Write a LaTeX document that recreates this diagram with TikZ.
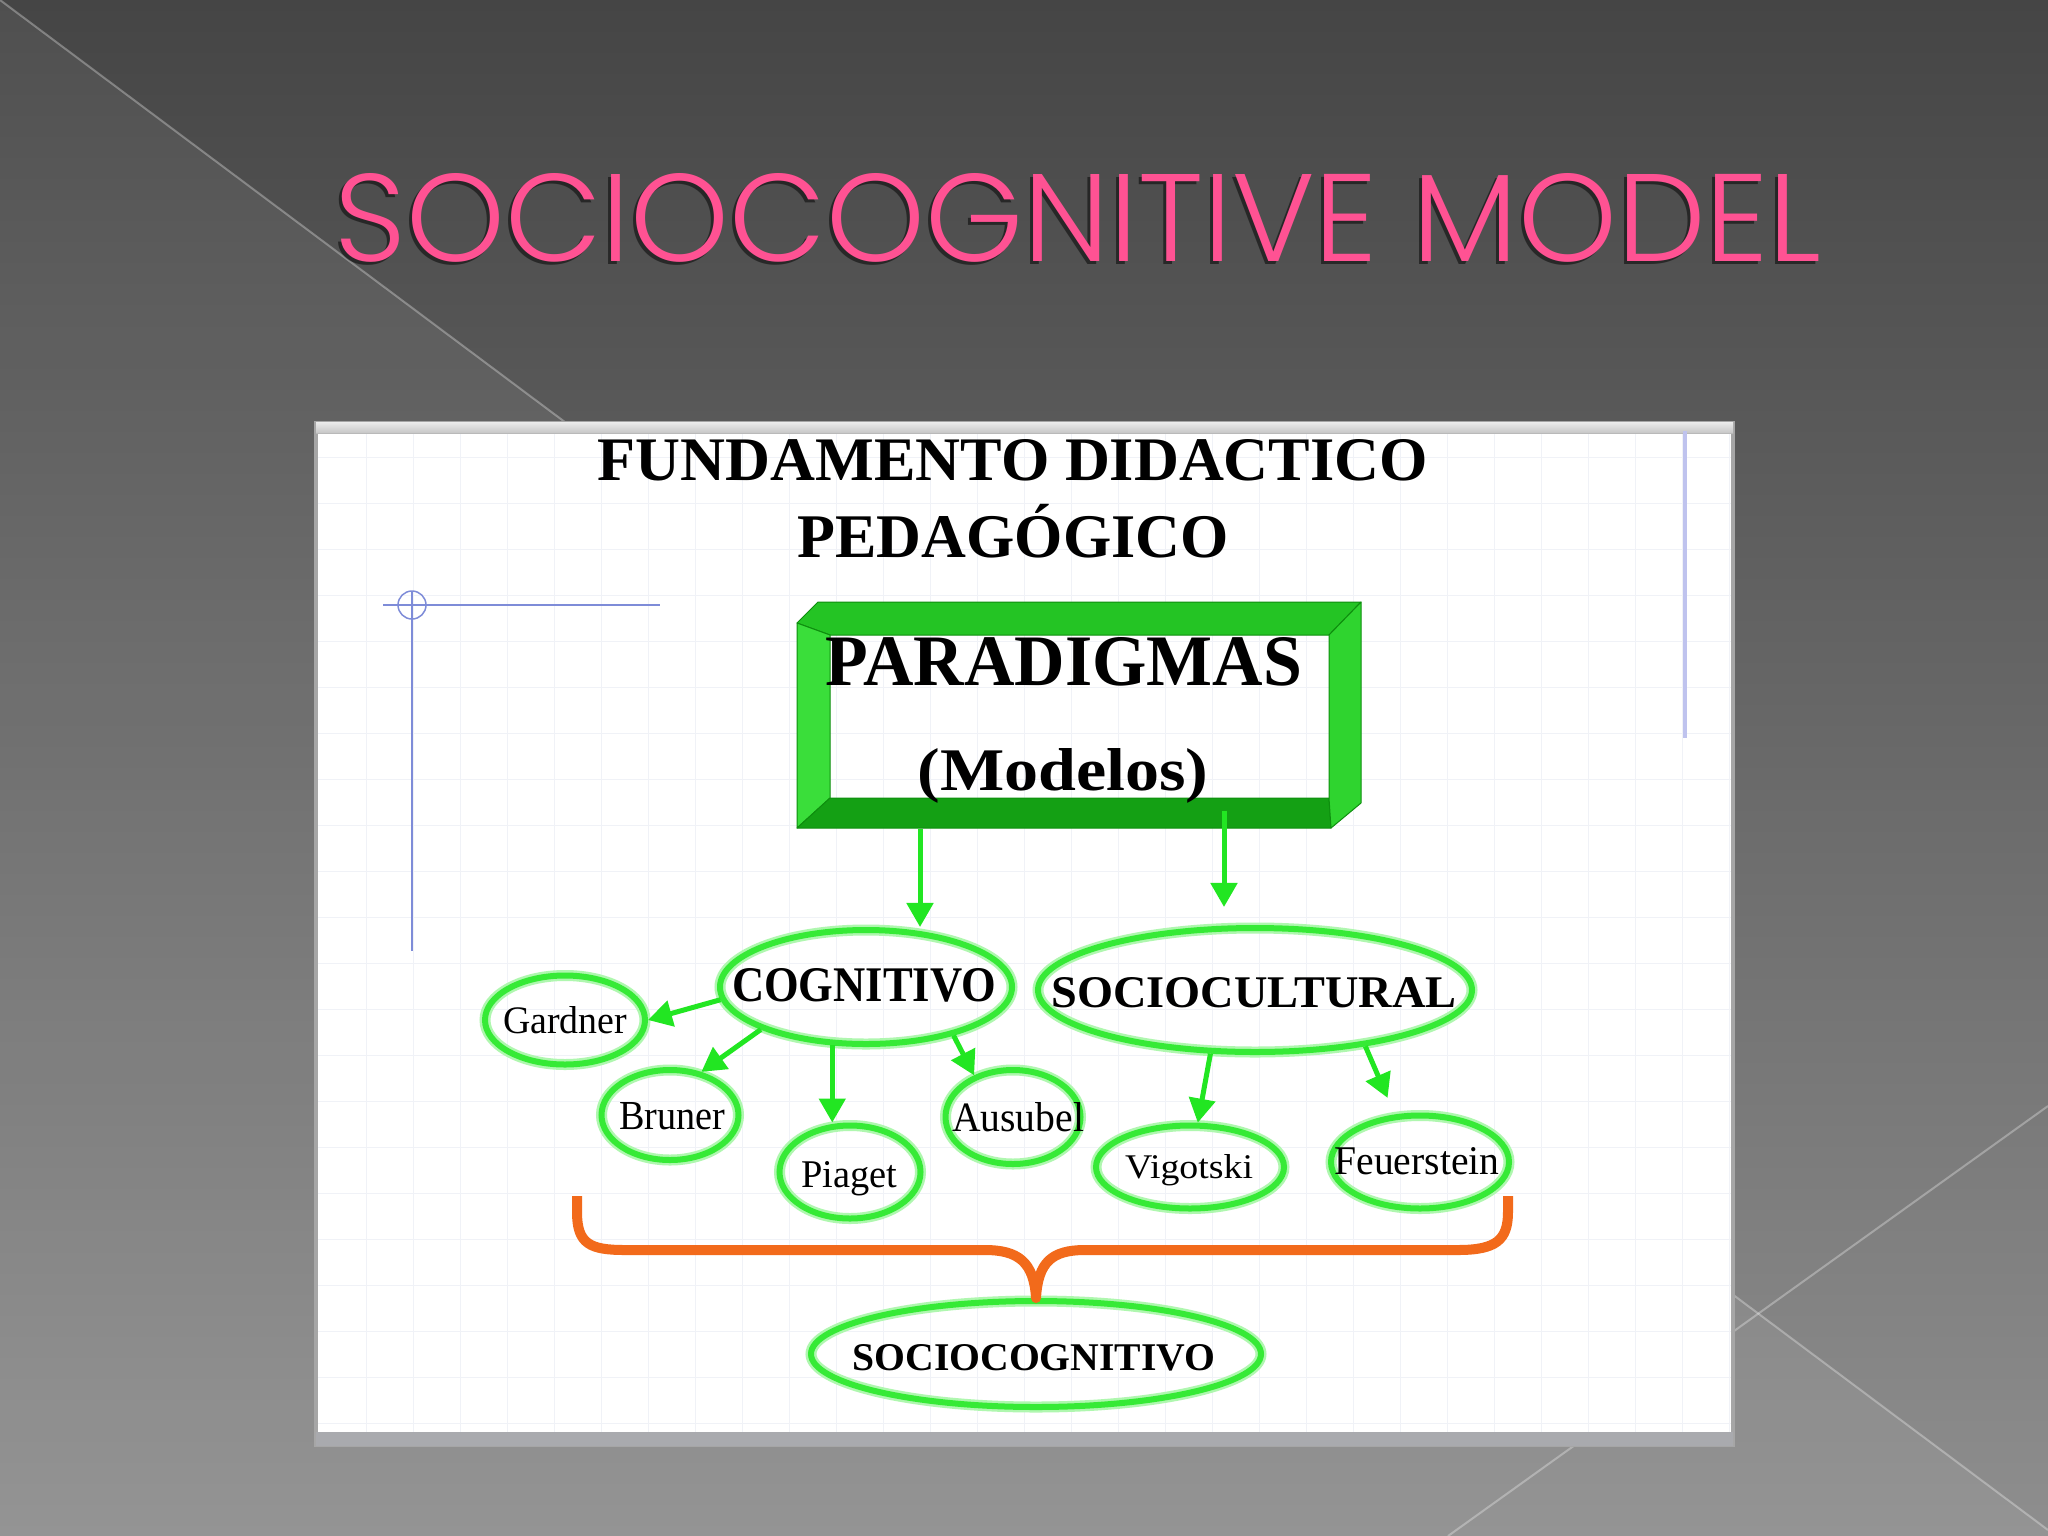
\documentclass[tikz,border=0pt]{standalone}
\usepackage{fontspec}
\setmainfont{Liberation Serif}
\IfFontExistsTF{Poppins Light}{\newfontfamily\titlefont{Poppins Light}}{\newfontfamily\titlefont{Poppins}}
\usepackage{graphicx}
\usetikzlibrary{arrows.meta,shapes.geometric,calc}
\newlength\pxu
\setlength\pxu{0.01cm}
\newcommand\fitt[3]{\resizebox{#1\pxu}{#2\pxu}{#3}}
\definecolor{bgtop}{HTML}{454545}
\definecolor{bgbot}{HTML}{8E8E8E}
\definecolor{titlepink}{HTML}{FF5293}
\definecolor{gline}{HTML}{36EA36}
\definecolor{garrow}{HTML}{22E622}
\definecolor{orangebr}{HTML}{F26A1B}
\definecolor{guide}{HTML}{7E8CD8}
\definecolor{guidetwo}{HTML}{BFC3EE}
\definecolor{gridc}{HTML}{F0F2F7}
\definecolor{ftop}{HTML}{24C424}
\definecolor{fleft}{HTML}{3ADE3A}
\definecolor{fbot}{HTML}{14A014}
\definecolor{fright}{HTML}{2FD42F}
\definecolor{fedge}{HTML}{0E8E0E}
\definecolor{panelbot}{HTML}{A9AAAE}
\tikzset{
  oval/.style={ellipse, draw=gline, line width=0.06cm, inner sep=0pt,
    preaction={draw=gline!40!white, line width=0.11cm}},
  lbl/.style={inner sep=0pt, text depth=0pt, anchor=center},
  arr/.style={draw=garrow, line width=0.05cm, -{Triangle[width=0.26cm,length=0.24cm]}},
  bgline/.style={draw=white, opacity=0.3, line width=0.02cm},
  face/.style={draw=fedge, line width=0.01cm, line join=round}
}
\begin{document}
\begin{tikzpicture}[x=0.01cm,y=-0.01cm]
\useasboundingbox (0,0) rectangle (2048,1536);
% background
\shade[top color=bgtop, bottom color=bgbot] (0,0) rectangle (2048,1536);
\fill[white, opacity=0.06] (0,0) -- (2048,1530) -- (2048,1536) -- (0,1536) -- cycle;
\draw[bgline] (0,0) -- (2048,1530);
\draw[bgline] (2048,1106) -- (1448,1536);
% title
\node[anchor=base, inner sep=0pt, text=black, opacity=0.5] (titlesh) at (1075,264)
  {\fitt{1487}{88}{\titlefont SOCIOCOGNITIVE MODEL}};
\node[anchor=base, inner sep=0pt, text=titlepink] (title) at (1078,261)
  {\fitt{1487}{88}{\titlefont SOCIOCOGNITIVE MODEL}};
% panel
\fill[gray!70] (314,421) rectangle (1735,1447);
\fill[white] (318,434) rectangle (1731,1432);
\shade[top color=gray!15, bottom color=gray!45] (316,422) rectangle (1733,433);
\draw[gray!55, line width=0.01cm] (316,433) -- (1733,433);
\fill[panelbot] (316,1432) rectangle (1733,1446);
% grid
\foreach \y in {457,503,...,1430} \draw[gridc, line width=0.01cm] (318,\y) -- (1731,\y);
\foreach \x in {366,413,...,1730} \draw[gridc, line width=0.01cm] (\x,434) -- (\x,1432);
% guides
\draw[guide, line width=0.02cm] (383,605) -- (660,605);
\draw[guide, line width=0.02cm] (412,591) -- (412,951);
\draw[guide, line width=0.015cm] (412,605) circle[radius=14];
\draw[guidetwo, line width=0.04cm] (1685,431) -- (1685,738);
% headings
\node[inner sep=0pt, anchor=base] (fund) at (1013,480)
  {\fitt{830}{41}{\bfseries FUNDAMENTO DIDACTICO}};
\node[inner sep=0pt, anchor=base] (peda) at (1013,557)
  {\resizebox{431\pxu}{!}{\bfseries PEDAGÓGICO}};
% 3D frame
\fill[ftop, face] (797,623) -- (818,602) -- (1361,602) -- (1329,635) -- (830,635) -- cycle;
\fill[fleft, face] (797,623) -- (830,635) -- (830,798) -- (797,828) -- cycle;
\fill[fbot, face] (797,828) -- (830,798) -- (1329,798) -- (1331,828) -- cycle;
\fill[fright, face] (1361,602) -- (1361,803) -- (1331,828) -- (1329,798) -- (1329,635) -- cycle;
\node[draw=none, inner sep=0pt, minimum width=564\pxu, minimum height=226\pxu] (par) at (1079,715) {};
\node[inner sep=0pt, anchor=base] (parat) at (1064,685) {\fitt{476}{48}{\bfseries PARADIGMAS}};
\node[inner sep=0pt, anchor=base] (modt) at (1063,790) {\fitt{291}{42}{\bfseries (Modelos)}};
% ovals
\node[oval, minimum width=292\pxu, minimum height=114\pxu] (cog) at (866,987) {};
\node[oval, minimum width=434\pxu, minimum height=124\pxu] (soc) at (1255,990) {};
\node[oval, minimum width=160\pxu, minimum height=89\pxu] (gar) at (565,1020) {};
\node[oval, minimum width=137\pxu, minimum height=90\pxu] (bru) at (670,1115) {};
\node[oval, minimum width=141\pxu, minimum height=93\pxu] (pia) at (850,1172) {};
\node[oval, minimum width=135\pxu, minimum height=94\pxu] (aus) at (1013,1117) {};
\node[oval, minimum width=188\pxu, minimum height=83\pxu] (vig) at (1190,1167) {};
\node[oval, minimum width=178\pxu, minimum height=93\pxu] (feu) at (1420,1162) {};
\node[oval, minimum width=450\pxu, minimum height=106\pxu] (scog) at (1036,1354) {};
% labels
\node[lbl] (cogt) at (864,985) {\fitt{264}{33}{\bfseries COGNITIVO}};
\node[lbl] (soct) at (1254,992) {\fitt{405}{30}{\bfseries SOCIOCULTURAL}};
\node[lbl] (gart) at (565,1020) {\fitt{124}{27}{Gardner}};
\node[lbl] (brut) at (672,1116) {\fitt{106}{27}{Bruner}};
\node[lbl] (piat) at (849,1174) {\fitt{96}{26}{Piaget}};
\node[lbl] (aust) at (1018,1117) {\fitt{132}{29}{Ausubel}};
\node[lbl] (vigt) at (1189,1166) {\fitt{128}{24}{Vigotski}};
\node[lbl] (feut) at (1417,1161) {\fitt{165}{27}{Feuerstein}};
\node[lbl] (scogt) at (1034,1357) {\fitt{363}{26}{\bfseries SOCIOCOGNITIVO}};
% arrows
\coordinate (xl) at (920,0);
\coordinate (xr) at (1224,0);
\draw[arr] (par.south -| xl) -- (cog.north -| xl);
\draw[arr, shorten <=-0.18cm, shorten >=0.18cm] (par.south -| xr) -- (soc.north -| xr);
\draw[arr] (cog.185) -- (gar.east);
\draw[arr] (cog.202) -- (bru.54);
\draw[arr] (cog.240) -- (cog.240 |- pia.north);
\draw[arr] (cog.331) -- (aus.133);
\draw[arr] (soc.235) -- (vig.80);
\draw[arr, shorten >=0.18cm] (soc.333) -- (feu.118);
% brace
\draw[orangebr, line width=0.1cm, line join=round]
  (577,1196) -- (577,1212) .. controls (577,1244) and (590,1250) .. (625,1250)
  -- (985,1250) .. controls (1018,1250) and (1034,1262) .. (scog.north)
  .. controls (1038,1262) and (1052,1250) .. (1085,1250)
  -- (1458,1250) .. controls (1496,1250) and (1508,1240) .. (1508,1212) -- (1508,1196);
\end{tikzpicture}
\end{document}
